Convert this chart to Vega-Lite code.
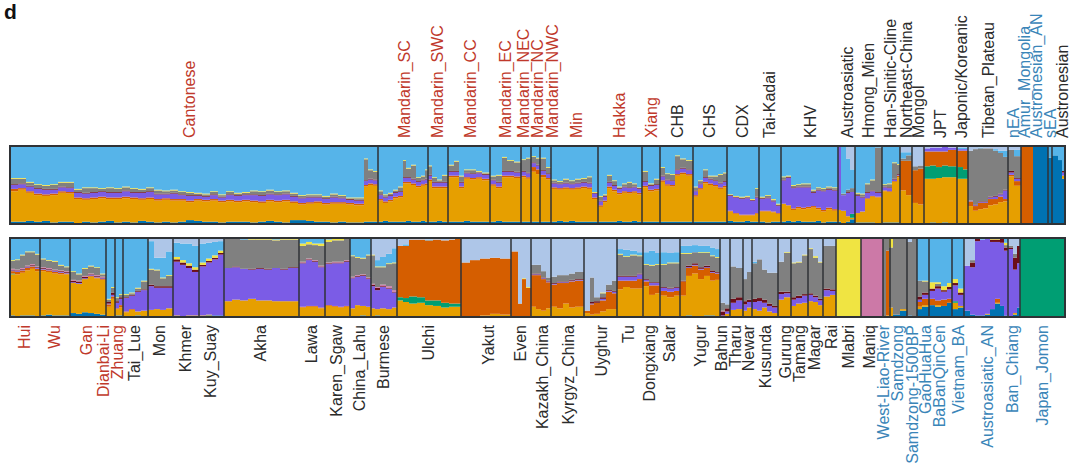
{"$schema":"https://vega.github.io/schema/vega-lite/v6.json","padding":{"left":4,"top":2,"right":0,"bottom":0},"background":"white","config":{"view":{"stroke":null}},"spacing":12,
"datasets":{
"top":[
{"x":10,"x2":18,"a":3,"b":39,"d":3,"e":5,"f":1,"h":7,"i":1,"j":41},{"x":18,"x2":26,"a":3,"b":41,"d":2,"e":5,"f":1,"h":6,"i":1,"j":41},{"x":26,"x2":34,"a":4,"b":36,"d":2,"e":6,"f":1,"h":4,"i":1,"j":46},{"x":34,"x2":42,"a":3,"b":34,"d":2,"e":6,"f":1,"h":4,"i":1,"j":49},{"x":42,"x2":50,"a":4,"b":32,"d":2,"e":6,"f":1,"h":4,"i":1,"j":50},{"x":50,"x2":58,"a":2,"b":35,"d":2,"e":5,"f":1,"h":5,"i":1,"j":49},{"x":58,"x2":66,"a":3,"b":37,"d":2,"e":5,"f":1,"h":5,"i":1,"j":46},{"x":66,"x2":74,"a":3,"b":36,"d":2,"e":5,"f":1,"h":6,"i":1,"j":46},
{"x":74,"x2":82,"a":1,"b":31,"d":2,"e":6,"f":1,"h":3,"i":1,"j":55},{"x":82,"x2":90,"a":3,"b":28,"d":2,"e":6,"f":1,"h":6,"i":1,"j":53},{"x":90,"x2":98,"a":2,"b":30,"d":2,"e":6,"f":1,"h":5,"i":1,"j":53},{"x":98,"x2":106,"a":3,"b":30,"d":2,"e":6,"f":1,"h":3,"i":1,"j":54},{"x":106,"x2":114,"a":4,"b":28,"d":2,"e":6,"f":1,"h":5,"i":1,"j":53},{"x":114,"x2":122,"a":2,"b":30,"d":2,"e":6,"f":1,"h":4,"i":1,"j":54},{"x":122,"x2":130,"a":3,"b":30,"d":2,"e":7,"f":1,"h":4,"i":1,"j":52},{"x":130,"x2":138,"a":2,"b":30,"d":2,"e":6,"f":1,"h":4,"i":1,"j":54},{"x":138,"x2":146,"a":4,"b":27,"d":2,"e":7,"f":1,"h":3,"i":1,"j":55},{"x":146,"x2":154,"a":3,"b":29,"d":2,"e":7,"f":1,"h":4,"i":1,"j":53},{"x":154,"x2":162,"a":2,"b":28,"d":2,"e":6,"f":1,"h":4,"i":1,"j":56},{"x":162,"x2":170,"a":3,"b":28,"d":2,"e":5,"f":1,"h":3,"i":1,"j":57},{"x":170,"x2":178,"a":2,"b":28,"d":2,"e":7,"f":1,"h":3,"i":1,"j":56},{"x":178,"x2":186,"a":3,"b":27,"d":2,"e":5,"f":1,"h":3,"i":1,"j":58},{"x":186,"x2":194,"a":5,"b":23,"d":2,"e":6,"f":1,"h":3,"i":1,"j":59},{"x":194,"x2":202,"a":4,"b":26,"d":2,"e":4,"f":1,"h":2,"i":1,"j":60},{"x":202,"x2":210,"a":3,"b":26,"d":2,"e":4,"f":1,"h":2,"i":1,"j":61},{"x":210,"x2":218,"a":3,"b":27,"d":2,"e":5,"f":1,"h":3,"i":1,"j":58},{"x":218,"x2":226,"a":2,"b":26,"d":2,"e":4,"f":1,"h":2,"i":1,"j":62},{"x":226,"x2":234,"a":3,"b":26,"d":2,"e":6,"f":1,"h":3,"i":1,"j":58},{"x":234,"x2":242,"a":3,"b":25,"d":2,"e":6,"f":1,"h":2,"i":1,"j":60},{"x":242,"x2":250,"a":3,"b":26,"d":2,"e":6,"f":1,"h":2,"i":1,"j":59},{"x":250,"x2":258,"a":2,"b":26,"d":2,"e":7,"f":1,"h":4,"i":1,"j":57},{"x":258,"x2":266,"a":3,"b":24,"d":2,"e":7,"f":1,"h":4,"i":1,"j":58},{"x":266,"x2":274,"a":4,"b":25,"d":2,"e":7,"f":1,"h":4,"i":1,"j":56},{"x":274,"x2":282,"a":3,"b":25,"d":2,"e":7,"f":1,"h":3,"i":1,"j":58},{"x":282,"x2":290,"a":2,"b":27,"d":2,"e":7,"f":1,"h":3,"i":1,"j":57},{"x":290,"x2":298,"a":5,"b":22,"d":2,"e":6,"f":1,"h":3,"i":1,"j":60},{"x":298,"x2":306,"a":5,"b":20,"d":2,"e":6,"f":1,"h":2,"i":1,"j":63},{"x":306,"x2":314,"a":4,"b":22,"d":2,"e":6,"f":1,"h":2,"i":1,"j":62},{"x":314,"x2":322,"a":3,"b":24,"d":2,"e":5,"f":1,"h":2,"i":1,"j":62},{"x":322,"x2":330,"a":3,"b":22,"d":2,"e":5,"f":1,"h":2,"i":1,"j":64},{"x":330,"x2":338,"a":2,"b":24,"d":2,"e":6,"f":1,"h":3,"i":1,"j":61},{"x":338,"x2":346,"a":3,"b":23,"d":2,"e":5,"f":1,"h":2,"i":1,"j":63},{"x":346,"x2":354,"a":2,"b":23,"d":2,"e":4,"f":1,"h":1,"i":1,"j":66},{"x":354,"x2":364,"a":2,"b":22,"d":2,"e":4,"f":1,"h":2,"i":1,"j":66},
{"x":364,"x2":368,"a":3,"b":45,"d":2,"e":5,"f":1,"h":27,"i":1,"j":16},{"x":368,"x2":373,"a":3,"b":47,"d":2,"e":5,"f":1,"h":11,"i":1,"j":30},{"x":373,"x2":378,"a":3,"b":46,"d":2,"e":5,"f":1,"h":10,"i":1,"j":32},{"x":378,"x2":383,"a":3,"b":27,"d":2,"e":5,"f":1,"h":4,"i":1,"j":57},{"x":383,"x2":388,"a":4,"b":23,"d":2,"e":5,"f":1,"h":2,"i":1,"j":62},{"x":388,"x2":393,"a":3,"b":26,"d":2,"e":5,"f":1,"h":2,"i":1,"j":60},{"x":393,"x2":398,"a":3,"b":30,"d":2,"e":5,"f":1,"h":2,"i":1,"j":56},{"x":398,"x2":403,"a":3,"b":31,"d":2,"e":5,"f":1,"h":5,"i":1,"j":52},{"x":403,"x2":406,"a":3,"b":49,"d":2,"e":5,"f":1,"h":21,"i":1,"j":18},{"x":406,"x2":411,"a":4,"b":48,"d":2,"e":5,"f":1,"h":11,"i":1,"j":28},{"x":411,"x2":416,"a":3,"b":47,"d":2,"e":5,"f":1,"h":17,"i":1,"j":24},{"x":416,"x2":421,"a":3,"b":44,"d":2,"e":5,"f":1,"h":4,"i":1,"j":40},{"x":421,"x2":425,"a":4,"b":45,"d":2,"e":5,"f":1,"h":4,"i":1,"j":38},{"x":425,"x2":428,"a":3,"b":47,"d":2,"e":5,"f":1,"h":11,"i":1,"j":30},
{"x":428,"x2":432,"a":3,"b":52,"d":2,"e":5,"f":1,"h":11,"i":1,"j":25},{"x":432,"x2":437,"a":3,"b":43,"d":2,"e":5,"f":1,"h":5,"i":1,"j":40},{"x":437,"x2":442,"a":4,"b":42,"d":2,"e":5,"f":1,"h":2,"i":1,"j":43},{"x":442,"x2":448,"a":3,"b":43,"d":2,"e":5,"f":1,"h":8,"i":1,"j":37},{"x":448,"x2":454,"a":3,"b":57,"d":2,"e":5,"f":1,"h":7,"i":1,"j":24},{"x":454,"x2":459,"a":3,"b":57,"d":2,"e":5,"f":1,"h":12,"i":1,"j":19},{"x":459,"x2":464,"a":3,"b":43,"d":2,"e":5,"f":1,"h":7,"i":1,"j":38},{"x":464,"x2":470,"a":4,"b":54,"d":2,"e":5,"f":1,"h":3,"i":1,"j":30},{"x":470,"x2":476,"a":3,"b":54,"d":2,"e":5,"f":1,"h":4,"i":1,"j":30},{"x":476,"x2":482,"a":3,"b":55,"d":2,"e":5,"f":1,"h":1,"i":1,"j":32},{"x":482,"x2":490,"a":3,"b":53,"d":2,"e":5,"f":1,"h":1,"i":1,"j":34},{"x":490,"x2":496,"a":3,"b":46,"d":2,"e":5,"f":1,"h":4,"i":1,"j":38},{"x":496,"x2":502,"a":4,"b":42,"d":2,"e":5,"f":1,"h":8,"i":1,"j":37},{"x":502,"x2":507,"a":3,"b":57,"d":2,"e":5,"f":1,"h":17,"i":1,"j":14},{"x":507,"x2":514,"a":3,"b":57,"d":2,"e":5,"f":1,"h":13,"i":1,"j":18},{"x":514,"x2":521,"a":3,"b":56,"d":2,"e":5,"f":1,"h":12,"i":1,"j":20},{"x":521,"x2":526,"a":3,"b":57,"d":2,"e":5,"f":1,"h":14,"i":1,"j":17},{"x":526,"x2":531,"a":3,"b":55,"d":2,"e":5,"f":1,"h":18,"i":1,"j":15},{"x":531,"x2":536,"a":3,"b":64,"d":6,"e":5,"f":1,"h":7,"i":1,"j":13},{"x":536,"x2":540,"a":3,"b":61,"d":6,"e":5,"f":1,"h":8,"i":1,"j":15},{"x":540,"x2":546,"a":3,"b":57,"d":3,"e":5,"f":1,"h":15,"i":1,"j":15},{"x":546,"x2":551,"a":3,"b":54,"d":2,"e":5,"f":1,"h":7,"i":1,"j":27},
{"x":551,"x2":557,"a":3,"b":42,"d":2,"e":5,"f":1,"h":3,"i":1,"j":43},{"x":557,"x2":563,"a":4,"b":40,"d":2,"e":5,"f":1,"h":2,"i":1,"j":45},{"x":563,"x2":569,"a":3,"b":42,"d":2,"e":5,"f":1,"h":4,"i":1,"j":42},{"x":569,"x2":575,"a":4,"b":40,"d":2,"e":5,"f":1,"h":3,"i":1,"j":44},{"x":575,"x2":581,"a":3,"b":42,"d":2,"e":5,"f":1,"h":4,"i":1,"j":42},{"x":581,"x2":587,"a":3,"b":43,"d":2,"e":5,"f":1,"h":4,"i":1,"j":41},{"x":587,"x2":592,"a":3,"b":42,"d":2,"e":5,"f":1,"h":7,"i":1,"j":39},{"x":592,"x2":598,"a":3,"b":29,"d":2,"e":5,"f":1,"i":1,"j":59},{"x":598,"x2":603,"a":3,"b":19,"d":2,"e":5,"f":1,"h":5,"i":1,"j":64},{"x":603,"x2":607,"a":3,"b":25,"d":2,"e":5,"f":1,"h":1,"i":1,"j":62},{"x":607,"x2":612,"a":3,"b":43,"d":2,"e":5,"f":1,"h":8,"i":1,"j":37},{"x":612,"x2":617,"a":3,"b":39,"d":2,"e":5,"f":1,"h":5,"i":1,"j":44},{"x":617,"x2":622,"a":4,"b":34,"d":2,"e":5,"f":1,"h":1,"i":1,"j":52},{"x":622,"x2":627,"a":3,"b":37,"d":2,"e":5,"f":1,"h":3,"i":1,"j":48},{"x":627,"x2":632,"a":3,"b":36,"d":2,"e":5,"f":1,"h":6,"i":1,"j":46},{"x":632,"x2":637,"a":4,"b":36,"d":2,"e":5,"f":1,"h":3,"i":1,"j":48},{"x":637,"x2":642,"a":3,"b":35,"d":2,"e":5,"f":1,"i":1,"j":53},{"x":642,"x2":648,"a":3,"b":44,"d":2,"e":5,"f":1,"h":12,"i":1,"j":32},{"x":648,"x2":654,"a":3,"b":39,"d":2,"e":5,"f":1,"h":1,"i":1,"j":48},{"x":654,"x2":660,"a":3,"b":40,"d":2,"e":5,"f":1,"h":6,"i":1,"j":42},{"x":660,"x2":665,"a":3,"b":51,"d":2,"e":5,"f":1,"h":10,"i":1,"j":27},{"x":665,"x2":670,"a":3,"b":46,"d":2,"e":5,"f":1,"h":7,"i":1,"j":35},{"x":670,"x2":675,"a":3,"b":45,"d":2,"e":5,"f":1,"h":7,"i":1,"j":36},{"x":675,"x2":680,"a":3,"b":59,"d":2,"e":5,"f":1,"h":17,"i":1,"j":12},{"x":680,"x2":686,"a":3,"b":61,"d":2,"e":5,"f":1,"h":11,"i":1,"j":16},{"x":686,"x2":693,"a":3,"b":59,"d":2,"e":5,"f":1,"h":11,"i":1,"j":18},{"x":693,"x2":698,"a":3,"b":32,"d":2,"e":5,"f":1,"h":4,"i":1,"j":52},{"x":698,"x2":703,"a":3,"b":41,"d":2,"e":5,"f":1,"h":3,"i":1,"j":44},{"x":703,"x2":708,"a":3,"b":49,"d":2,"e":5,"f":1,"h":9,"i":1,"j":30},{"x":708,"x2":713,"a":3,"b":47,"d":2,"e":5,"f":1,"h":3,"i":1,"j":38},{"x":713,"x2":718,"a":3,"b":45,"d":2,"e":5,"f":1,"h":5,"i":1,"j":38},{"x":718,"x2":723,"a":3,"b":42,"d":2,"e":5,"f":1,"h":10,"i":1,"j":36},{"x":723,"x2":727,"a":3,"b":44,"d":2,"e":5,"f":1,"h":10,"i":1,"j":34},
{"x":727,"x2":733,"a":4,"b":12,"d":1,"e":19,"f":1,"i":1,"j":62},{"x":733,"x2":739,"a":3,"b":10,"d":1,"e":20,"f":1,"i":1,"j":64},{"x":739,"x2":745,"a":3,"b":8,"d":1,"e":20,"f":1,"h":1,"i":1,"j":65},{"x":745,"x2":750,"a":4,"b":7,"d":1,"e":21,"f":1,"h":1,"i":1,"j":64},{"x":750,"x2":755,"a":3,"b":8,"d":1,"e":18,"f":1,"i":1,"j":68},{"x":755,"x2":759,"a":3,"b":10,"d":1,"e":20,"f":1,"h":10,"i":1,"j":54},{"x":759,"x2":765,"a":3,"b":13,"d":1,"e":15,"f":1,"h":1,"i":1,"j":65},{"x":765,"x2":771,"a":2,"b":14,"d":1,"e":16,"f":1,"h":2,"i":1,"j":63},{"x":771,"x2":776,"a":3,"b":12,"d":1,"e":13,"f":1,"h":1,"i":1,"j":68},{"x":776,"x2":781,"a":3,"b":10,"d":1,"e":9,"f":1,"h":1,"i":1,"j":74},{"x":781,"x2":786,"a":3,"b":23,"e":30,"f":1,"h":3,"i":1,"j":39},{"x":786,"x2":791,"a":4,"b":20,"e":35,"f":1,"h":1,"i":1,"j":38},{"x":791,"x2":796,"a":3,"b":15,"d":2,"e":26,"f":1,"h":2,"i":1,"j":50},{"x":796,"x2":801,"a":4,"b":16,"d":2,"e":25,"f":1,"h":2,"i":1,"j":49},{"x":801,"x2":806,"a":3,"b":16,"d":2,"e":26,"f":1,"h":3,"i":1,"j":48},{"x":806,"x2":811,"a":3,"b":17,"d":2,"e":25,"f":1,"h":3,"i":1,"j":48},{"x":811,"x2":816,"a":3,"b":18,"d":2,"e":17,"f":1,"h":2,"i":1,"j":56},{"x":816,"x2":821,"a":4,"b":15,"d":2,"e":22,"f":1,"h":2,"i":1,"j":53},{"x":821,"x2":826,"a":2,"b":14,"d":2,"e":24,"f":1,"h":2,"i":1,"j":54},{"x":826,"x2":832,"a":3,"b":16,"d":2,"e":23,"f":1,"h":2,"i":1,"j":52},{"x":832,"x2":838,"a":3,"b":14,"d":2,"e":24,"f":1,"h":2,"i":1,"j":53},
{"x":838,"x2":841,"a":3,"b":15,"e":82},{"x":841,"x2":846,"b":17,"e":20,"h":2,"j":61},{"x":846,"x2":850,"a":3,"b":7,"e":30,"f":1,"h":3,"j":40,"k":16},{"x":850,"x2":855,"a":6,"b":2,"c":5,"e":28,"h":5,"j":24,"k":30},{"x":855,"x2":860,"a":2,"b":12,"e":22,"f":1,"h":2,"i":1,"j":60},{"x":860,"x2":865,"a":2,"b":14,"e":18,"f":1,"h":3,"i":1,"j":61},{"x":865,"x2":870,"a":2,"b":30,"d":1,"e":7,"f":1,"h":10,"i":1,"j":48},{"x":870,"x2":875,"a":2,"b":33,"d":1,"e":6,"f":1,"h":13,"i":1,"j":43},{"x":875,"x2":882,"a":1,"b":33,"d":1,"e":5,"f":1,"h":57,"j":2},{"x":882,"x2":887,"a":2,"b":40,"d":1,"e":4,"f":1,"h":2,"i":1,"j":49},{"x":887,"x2":892,"a":2,"b":39,"d":1,"e":4,"f":1,"h":4,"i":1,"j":48},{"x":892,"x2":897,"a":2,"b":52,"d":1,"e":2,"f":1,"h":20,"i":1,"j":21},{"x":897,"x2":900,"a":2,"b":58,"d":2,"e":1,"f":1,"h":12,"i":1,"j":23},{"x":900,"x2":906,"a":1,"b":42,"d":38,"h":3,"j":8,"k":8},{"x":906,"x2":912,"a":1,"b":36,"d":44,"h":7,"j":4,"k":8},{"x":912,"x2":918,"b":27,"d":42,"h":5,"k":26},{"x":918,"x2":924,"b":25,"d":46,"h":4,"k":25},{"x":924,"x2":930,"a":1,"b":57,"c":16,"d":19,"e":4,"k":3},{"x":930,"x2":936,"a":2,"b":56,"c":17,"d":18,"e":5,"k":2},{"x":936,"x2":942,"a":1,"b":58,"c":14,"d":20,"e":5,"k":2},{"x":942,"x2":948,"a":2,"b":58,"c":15,"d":18,"e":6,"k":1},{"x":948,"x2":957,"a":1,"b":59,"c":14,"d":21,"e":3,"k":2},{"x":957,"x2":963,"a":1,"b":57,"c":15,"d":21,"e":2,"j":2,"k":2},{"x":963,"x2":968,"a":1,"b":57,"c":12,"d":24,"e":2,"j":2,"k":2},{"x":968,"x2":973,"a":1,"b":22,"d":6,"e":1,"h":64,"k":6},{"x":973,"x2":978,"a":1,"b":16,"d":6,"e":1,"f":1,"h":71,"k":4},{"x":978,"x2":983,"a":1,"b":18,"d":8,"e":1,"f":1,"h":68,"j":1,"k":2},{"x":983,"x2":988,"a":1,"b":19,"d":7,"e":1,"f":1,"h":68,"k":3},{"x":988,"x2":993,"a":1,"b":23,"d":8,"e":2,"f":1,"h":62,"k":3},{"x":993,"x2":998,"a":1,"b":24,"d":7,"e":3,"f":1,"h":58,"j":2,"k":4},{"x":998,"x2":1003,"a":1,"b":27,"d":7,"e":3,"f":1,"h":52,"j":3,"k":6},{"x":1003,"x2":1008,"a":1,"b":28,"d":3,"e":11,"f":1,"h":42,"j":8,"k":6},{"x":1008,"x2":1014,"a":1,"b":60,"d":2,"e":3,"f":2,"h":27,"k":5},{"x":1014,"x2":1021,"a":1,"b":48,"d":6,"e":3,"f":1,"h":28,"j":8,"k":5},{"x":1021,"x2":1033,"b":1,"d":99},{"x":1033,"x2":1048,"a":99,"j":1},{"x":1048,"x2":1052,"a":85,"j":15},{"x":1052,"x2":1058,"a":88,"j":12},{"x":1058,"x2":1062,"a":82,"j":18},{"x":1062,"x2":1065,"a":58,"b":4,"e":4,"f":2,"j":32}
],
"bottom":[
{"x":10,"x2":15,"a":2,"b":52,"c":1,"d":3,"e":1,"f":1,"g":1,"h":10,"i":1,"j":28},{"x":15,"x2":20,"a":1,"b":53,"d":3,"e":1,"f":1,"g":1,"h":12,"i":1,"j":27},{"x":20,"x2":25,"a":2,"b":54,"d":3,"e":1,"f":1,"g":1,"h":16,"i":1,"j":21},{"x":25,"x2":30,"a":2,"b":57,"d":3,"e":1,"f":1,"g":1,"h":17,"i":1,"j":17},{"x":30,"x2":35,"a":2,"b":59,"d":3,"e":1,"f":1,"g":1,"h":15,"i":1,"j":17},{"x":35,"x2":40,"a":1,"b":57,"d":3,"e":1,"f":1,"g":1,"h":15,"i":1,"j":20},
{"x":40,"x2":46,"a":2,"b":56,"d":2,"e":1,"f":1,"g":1,"h":10,"i":1,"j":26},{"x":46,"x2":52,"a":3,"b":54,"d":2,"e":1,"f":1,"g":1,"h":9,"i":1,"j":28},{"x":52,"x2":58,"a":2,"b":53,"d":2,"e":1,"f":1,"g":1,"h":10,"i":1,"j":29},{"x":58,"x2":64,"a":2,"b":52,"d":2,"e":1,"f":1,"g":1,"h":6,"i":1,"j":34},{"x":64,"x2":70,"a":2,"b":52,"d":1,"e":1,"f":1,"g":1,"h":5,"i":1,"j":36},
{"x":70,"x2":76,"a":5,"b":38,"e":1,"f":2,"g":1,"h":10,"i":1,"j":42},{"x":76,"x2":82,"a":4,"b":38,"e":1,"f":2,"g":1,"h":8,"i":1,"j":45},{"x":82,"x2":88,"a":6,"b":42,"e":1,"f":2,"g":1,"h":9,"i":1,"j":38},{"x":88,"x2":94,"a":5,"b":46,"d":1,"e":1,"f":1,"g":1,"h":9,"i":1,"j":35},{"x":94,"x2":100,"a":4,"b":45,"d":1,"e":1,"f":1,"g":1,"h":9,"i":1,"j":37},{"x":100,"x2":106,"a":3,"b":44,"d":1,"e":1,"f":1,"g":1,"h":3,"i":1,"j":45},
{"x":106,"x2":111,"a":1,"b":12,"d":3,"e":1,"f":2,"h":3,"i":1,"j":77},{"x":111,"x2":115,"a":1,"b":22,"d":3,"e":2,"f":3,"h":6,"i":1,"j":62},{"x":115,"x2":119,"a":2,"b":8,"d":1,"e":7,"f":2,"h":4,"i":1,"j":75},{"x":119,"x2":123,"a":2,"b":10,"d":3,"e":8,"f":2,"h":3,"i":1,"j":71},
{"x":123,"x2":129,"a":1,"b":5,"d":1,"e":17,"f":1,"h":3,"i":1,"j":71},{"x":129,"x2":135,"a":1,"b":8,"d":1,"e":17,"f":1,"h":2,"i":1,"j":69},{"x":135,"x2":141,"a":2,"b":5,"e":25,"f":1,"h":3,"i":1,"j":63},{"x":141,"x2":148,"a":1,"b":7,"e":26,"f":1,"h":10,"i":1,"j":54},
{"x":148,"x2":154,"a":1,"b":8,"e":30,"f":2,"h":19,"i":1,"j":35,"k":4},{"x":154,"x2":160,"a":1,"b":9,"e":27,"f":2,"h":20,"i":1,"j":15,"k":25},{"x":160,"x2":166,"a":1,"b":8,"e":28,"f":2,"h":10,"i":1,"j":25,"k":25},{"x":166,"x2":173,"a":1,"b":10,"e":26,"f":2,"h":13,"i":1,"j":30,"k":17},
{"x":173,"x2":180,"b":2,"e":68,"f":3,"i":3,"j":18,"k":6},{"x":180,"x2":186,"b":1,"e":65,"f":3,"i":3,"j":21,"k":7},{"x":186,"x2":192,"a":1,"b":1,"e":60,"f":3,"i":3,"j":25,"k":7},{"x":192,"x2":199,"a":1,"b":1,"e":55,"f":3,"i":3,"j":27,"k":10},{"x":199,"x2":206,"a":1,"b":1,"e":62,"f":2,"i":3,"j":24,"k":7},{"x":206,"x2":212,"a":2,"b":1,"e":66,"f":2,"i":3,"j":20,"k":6},{"x":212,"x2":218,"a":2,"e":71,"f":2,"i":3,"j":17,"k":5},{"x":218,"x2":224,"a":2,"e":77,"f":2,"i":3,"j":12,"k":4},
{"x":224,"x2":232,"a":1,"b":19,"e":42,"h":38},{"x":232,"x2":240,"b":22,"e":41,"f":1,"h":36},{"x":240,"x2":248,"a":1,"b":20,"e":40,"h":37,"j":2},{"x":248,"x2":256,"b":23,"e":37,"f":1,"h":37,"i":1,"j":1},{"x":256,"x2":264,"b":21,"e":40,"f":1,"h":36,"i":1,"j":1},{"x":264,"x2":272,"a":1,"b":20,"e":39,"f":1,"h":37,"i":1,"j":1},{"x":272,"x2":280,"a":1,"b":19,"e":42,"h":35,"i":1,"j":2},{"x":280,"x2":288,"b":20,"e":40,"f":1,"h":37,"i":1,"j":1},{"x":288,"x2":299,"b":20,"e":42,"f":1,"h":35,"i":1,"j":1},
{"x":299,"x2":306,"a":1,"b":11,"d":1,"e":55,"f":1,"g":1,"h":20,"i":3,"j":7},{"x":306,"x2":312,"a":1,"b":12,"d":1,"e":58,"f":1,"g":1,"h":18,"i":3,"j":5},{"x":312,"x2":318,"b":13,"d":1,"e":56,"f":1,"g":1,"h":19,"i":2,"j":7},{"x":318,"x2":325,"b":11,"d":1,"e":51,"f":1,"g":1,"h":25,"i":3,"j":7},{"x":325,"x2":332,"b":14,"d":1,"e":52,"f":1,"g":1,"h":26,"i":3,"j":2},{"x":332,"x2":338,"b":13,"d":1,"e":54,"f":1,"g":1,"h":27,"i":2,"j":1},{"x":338,"x2":344,"b":12,"d":1,"e":55,"f":1,"g":1,"h":27,"i":2,"j":1},{"x":344,"x2":350,"b":13,"d":1,"e":56,"f":1,"g":1,"h":27,"i":1},
{"x":350,"x2":355,"a":1,"b":10,"e":38,"f":1,"g":1,"h":26,"i":1,"j":22},{"x":355,"x2":360,"a":1,"b":14,"e":36,"f":1,"g":1,"h":22,"i":1,"j":24},{"x":360,"x2":366,"a":2,"b":12,"e":38,"f":1,"g":1,"h":20,"i":1,"j":25},{"x":366,"x2":371,"a":1,"b":12,"e":35,"f":1,"g":1,"h":28,"i":1,"j":21},
{"x":371,"x2":375,"a":1,"b":10,"e":28,"f":2,"g":1,"h":36,"i":1,"k":21},{"x":375,"x2":380,"a":2,"b":8,"e":24,"f":3,"g":1,"h":25,"i":1,"j":8,"k":28},{"x":380,"x2":386,"a":1,"b":10,"e":27,"f":1,"g":2,"h":22,"i":1,"j":12,"k":24},{"x":386,"x2":392,"a":1,"b":9,"e":26,"f":1,"g":2,"h":28,"i":1,"j":12,"k":20},{"x":392,"x2":397,"a":1,"b":11,"e":19,"f":1,"g":2,"h":34,"i":1,"j":18,"k":13},
{"x":397,"x2":403,"b":21,"c":4,"d":65,"k":10},{"x":403,"x2":409,"b":19,"c":5,"d":66,"j":2,"k":8},{"x":409,"x2":417,"b":17,"c":9,"d":72,"k":2},{"x":417,"x2":425,"b":18,"c":7,"d":73,"k":2},{"x":425,"x2":433,"b":15,"c":6,"d":76,"j":1,"k":2},{"x":433,"x2":441,"b":14,"c":7,"d":77,"k":2},{"x":441,"x2":449,"b":12,"c":6,"d":79,"k":3},{"x":449,"x2":455,"b":13,"c":4,"d":81,"k":2},{"x":455,"x2":461,"b":13,"c":4,"d":82,"k":1},
{"x":461,"x2":470,"b":1,"d":68,"k":31},{"x":470,"x2":480,"b":1,"d":71,"k":28},{"x":480,"x2":490,"b":2,"d":72,"k":26},{"x":490,"x2":500,"b":4,"d":71,"k":25},{"x":500,"x2":511,"b":3,"d":71,"k":26},{"x":511,"x2":518,"d":83,"k":17},{"x":518,"x2":522,"d":17,"k":83},{"x":522,"x2":526,"d":48,"i":1,"k":51},{"x":526,"x2":531,"d":37,"i":1,"k":62},
{"x":531,"x2":536,"b":13,"d":40,"e":1,"f":1,"h":11,"k":34},{"x":536,"x2":541,"b":10,"d":43,"e":1,"f":1,"h":11,"k":34},{"x":541,"x2":546,"b":8,"d":40,"e":1,"f":1,"h":8,"k":42},{"x":546,"x2":551,"b":11,"d":33,"e":1,"f":1,"h":4,"k":50},{"x":551,"x2":557,"b":13,"d":28,"e":1,"f":1,"h":8,"k":49},{"x":557,"x2":563,"b":11,"d":32,"e":1,"f":1,"h":8,"k":47},{"x":563,"x2":569,"b":17,"d":26,"e":1,"f":1,"h":8,"k":47},{"x":569,"x2":575,"b":12,"d":33,"e":1,"f":1,"h":8,"k":45},{"x":575,"x2":584,"b":13,"d":33,"e":1,"f":1,"h":9,"k":43},
{"x":584,"x2":590,"b":5,"d":3,"k":92},{"x":590,"x2":594,"b":3,"d":13,"e":1,"f":2,"h":31,"k":50},{"x":594,"x2":600,"b":4,"d":14,"f":2,"h":5,"k":75},{"x":600,"x2":606,"b":7,"d":14,"e":2,"f":2,"h":5,"i":1,"k":69},{"x":606,"x2":612,"b":10,"d":22,"e":1,"f":1,"h":7,"k":59},{"x":612,"x2":617,"b":10,"d":20,"e":2,"f":1,"h":13,"k":54},
{"x":617,"x2":623,"a":1,"b":34,"d":11,"e":5,"f":1,"h":27,"i":1,"j":6,"k":14},{"x":623,"x2":630,"a":1,"b":37,"d":8,"e":5,"f":1,"h":24,"i":1,"j":8,"k":15},{"x":630,"x2":637,"a":1,"b":35,"d":10,"e":5,"f":1,"h":26,"i":1,"j":5,"k":16},{"x":637,"x2":643,"a":1,"b":35,"d":12,"e":6,"f":1,"h":22,"i":1,"j":4,"k":18},{"x":643,"x2":649,"a":1,"b":38,"d":6,"e":2,"f":1,"h":18,"i":1,"j":15,"k":18},{"x":649,"x2":655,"a":1,"b":27,"d":12,"e":3,"f":1,"h":21,"i":1,"j":18,"k":16},{"x":655,"x2":660,"a":1,"b":29,"d":10,"e":3,"f":1,"h":22,"i":1,"j":14,"k":19},{"x":660,"x2":667,"b":27,"d":6,"e":4,"f":1,"h":28,"i":1,"j":15,"k":18},{"x":667,"x2":674,"a":1,"b":24,"d":7,"e":4,"f":1,"h":31,"i":1,"j":12,"k":19},{"x":674,"x2":680,"a":1,"b":26,"d":6,"e":4,"f":1,"h":30,"i":1,"j":13,"k":18},
{"x":680,"x2":686,"a":1,"b":26,"d":18,"f":1,"h":34,"i":1,"j":9,"k":10},{"x":686,"x2":692,"a":2,"b":50,"d":10,"e":1,"f":2,"h":15,"i":1,"j":9,"k":10},{"x":692,"x2":698,"a":1,"b":54,"d":10,"e":1,"f":2,"h":14,"j":9,"k":9},{"x":698,"x2":704,"a":1,"b":47,"d":12,"e":1,"f":2,"h":18,"i":1,"j":8,"k":10},{"x":704,"x2":710,"a":2,"b":50,"d":10,"e":1,"f":2,"h":16,"i":1,"j":8,"k":10},{"x":710,"x2":715,"a":2,"b":44,"d":10,"e":1,"f":2,"h":18,"i":1,"j":10,"k":12},{"x":715,"x2":720,"a":1,"b":46,"d":8,"e":1,"f":1,"h":18,"i":1,"j":10,"k":14},
{"x":720,"x2":725,"e":2,"f":5,"g":1,"h":10,"k":82},{"x":725,"x2":730,"a":1,"b":3,"e":3,"f":4,"h":5,"k":84},{"x":730,"x2":736,"a":1,"b":8,"e":9,"f":5,"h":41,"k":36},{"x":736,"x2":743,"a":1,"b":9,"e":11,"f":4,"h":37,"k":38},{"x":743,"x2":747,"b":8,"e":8,"f":4,"h":28,"k":52},{"x":747,"x2":752,"b":12,"e":7,"f":3,"h":35,"k":43},{"x":752,"x2":757,"b":10,"e":9,"f":4,"h":45,"j":2,"k":30},{"x":757,"x2":762,"b":8,"e":12,"f":4,"h":49,"k":27},{"x":762,"x2":767,"b":12,"e":6,"f":4,"h":38,"k":40},{"x":767,"x2":772,"b":7,"e":7,"f":3,"h":39,"k":44},{"x":772,"x2":778,"b":5,"e":7,"f":2,"h":42,"k":44},
{"x":778,"x2":784,"b":22,"e":7,"f":3,"h":38,"k":30},{"x":784,"x2":791,"b":25,"e":5,"f":2,"h":49,"i":1,"k":18},{"x":791,"x2":796,"b":14,"e":8,"f":3,"h":43,"i":1,"k":31},{"x":796,"x2":802,"b":17,"e":7,"f":3,"h":42,"i":1,"k":30},{"x":802,"x2":808,"b":18,"e":9,"f":2,"h":49,"i":1,"k":21},{"x":808,"x2":813,"b":20,"e":8,"f":2,"h":56,"i":1,"k":13},{"x":813,"x2":818,"b":19,"e":6,"f":2,"h":48,"i":2,"k":23},{"x":818,"x2":823,"b":15,"e":6,"f":2,"h":46,"i":1,"k":30},{"x":823,"x2":830,"b":26,"e":8,"f":2,"h":54,"k":10},{"x":830,"x2":836,"b":28,"e":5,"f":2,"h":55,"k":10},
{"x":836,"x2":861,"i":100},{"x":861,"x2":883,"g":100},{"x":883,"x2":886,"h":100},{"x":886,"x2":889,"b":2,"d":82,"h":16},{"x":889,"x2":893,"b":12,"h":76,"i":12},{"x":893,"x2":900,"a":3,"h":97},{"x":900,"x2":907,"a":8,"b":2,"h":90},{"x":907,"x2":912,"a":2,"h":93,"k":5},{"x":912,"x2":917,"h":100},
{"x":917,"x2":922,"a":10,"b":3,"d":6,"e":3,"f":4,"h":20,"j":54},{"x":922,"x2":929,"a":13,"b":2,"d":8,"e":5,"f":3,"h":14,"i":1,"j":54},{"x":929,"x2":935,"a":15,"d":8,"e":10,"f":3,"i":8,"j":56},{"x":935,"x2":941,"a":13,"b":2,"d":6,"e":15,"f":3,"h":3,"i":2,"j":56},{"x":941,"x2":947,"a":14,"d":8,"e":10,"f":2,"i":5,"j":61},{"x":947,"x2":952,"a":18,"d":5,"e":12,"f":3,"i":5,"j":57},{"x":952,"x2":958,"a":10,"b":8,"c":2,"e":20,"f":3,"i":5,"j":52},{"x":958,"x2":964,"a":12,"b":2,"e":14,"f":3,"i":5,"j":64},
{"x":964,"x2":970,"a":8,"e":57,"k":35},{"x":970,"x2":975,"a":3,"e":60,"f":6,"h":3,"k":28},{"x":975,"x2":980,"a":2,"e":94,"f":4},{"x":980,"x2":985,"a":2,"e":96,"j":2},{"x":985,"x2":990,"a":3,"b":1,"e":96},{"x":990,"x2":995,"a":10,"e":85,"f":3,"i":2},{"x":995,"x2":1000,"a":17,"b":1,"d":5,"e":72,"f":3,"i":2},{"x":1000,"x2":1004,"a":14,"e":80,"f":5,"i":1},{"x":1004,"x2":1008,"a":2,"e":82,"f":4,"h":3,"i":3,"j":6},{"x":1008,"x2":1013,"a":1,"e":85,"f":2,"h":2,"k":10},{"x":1013,"x2":1017,"a":3,"b":2,"e":55,"f":15,"h":5,"k":20},{"x":1017,"x2":1020,"a":12,"e":56,"f":22,"k":10},{"x":1020,"x2":1065,"c":100}
]},
"vconcat":[
{"width":1055,"height":78,"layer":[
{"data":{"name":"top"},"transform":[{"fold":["a","b","c","d","e","f","g","h","i","j","k"]},{"filter":"datum.value>0"},{"stack":"value","groupby":["x"],"sort":[{"field":"key","order":"ascending"}],"as":["y0","y1"]}],"mark":{"type":"bar"},"encoding":{"x":{"field":"x","type":"quantitative","scale":{"domain":[10,1065],"nice":false,"zero":false},"axis":null},"x2":{"field":"x2"},"y":{"field":"y0","type":"quantitative","scale":{"domain":[0,100],"nice":false},"axis":null},"y2":{"field":"y1"},"color":{"field":"key","type":"nominal","legend":null,"scale":{"domain":["a","b","c","d","e","f","g","h","i","j","k"],"range":["#0072B2","#E69F00","#009E73","#D55E00","#7B5CE6","#6B0F1A","#CC79A7","#808080","#F0E442","#56B4E9","#AEC6E8"]}}}},
{"data":{"values":[{"x":378},{"x":428},{"x":448},{"x":490},{"x":521},{"x":531},{"x":540},{"x":551},{"x":598},{"x":642},{"x":660},{"x":693},{"x":727},{"x":759},{"x":781},{"x":838},{"x":855},{"x":882},{"x":900},{"x":912},{"x":924},{"x":957},{"x":968},{"x":1008},{"x":1021},{"x":1048},{"x":1052}]},"mark":{"type":"rule","color":"#2f3236","strokeWidth":1.5},"encoding":{"x":{"field":"x","type":"quantitative"}}},
{"data":{"values":[{"x":10,"x2":1065,"y":0,"y2":100}]},"mark":{"type":"rect","fillOpacity":0,"stroke":"#2f3236","strokeWidth":2},"encoding":{"x":{"field":"x","type":"quantitative"},"x2":{"field":"x2"},"y":{"field":"y","type":"quantitative"},"y2":{"field":"y2"}}},
{"data":{"values":[{"x":190,"name":"Cantonese","kind":"han"},{"x":405,"name":"Mandarin_SC","kind":"han"},{"x":438,"name":"Mandarin_SWC","kind":"han"},{"x":471,"name":"Mandarin_CC","kind":"han"},{"x":506,"name":"Mandarin_EC","kind":"han"},{"x":524,"name":"Mandarin_NEC","kind":"han"},{"x":538,"name":"Mandarin_NC","kind":"han"},{"x":553,"name":"Mandarin_NWC","kind":"han"},{"x":577,"name":"Min","kind":"han"},{"x":620,"name":"Hakka","kind":"han"},{"x":652,"name":"Xiang","kind":"han"},{"x":678,"name":"CHB","kind":"other"},{"x":710,"name":"CHS","kind":"other"},{"x":743,"name":"CDX","kind":"other"},{"x":770,"name":"Tai-Kadai","kind":"other"},{"x":811,"name":"KHV","kind":"other"},{"x":848,"name":"Austroasiatic","kind":"other"},{"x":869,"name":"Hmong_Mien","kind":"other"},{"x":891,"name":"Han-Sinitic-Cline","kind":"other"},{"x":907,"name":"Northeast-China","kind":"other"},{"x":919,"name":"Mongol","kind":"other"},{"x":941,"name":"JPT","kind":"other"},{"x":962,"name":"Japonic/Koreanic","kind":"other"},{"x":989,"name":"Tibetan_Plateau","kind":"other"},{"x":1014,"name":"nEA","kind":"ancient"},{"x":1025,"name":"Amur_Mongolia","kind":"ancient"},{"x":1037,"name":"Austronesian_AN","kind":"ancient"},{"x":1051,"name":"sEA","kind":"ancient"},{"x":1063,"name":"Austronesian","kind":"other"}]},"mark":{"type":"text","angle":270,"align":"left","baseline":"middle","font":"Liberation Sans","fontSize":16,"dx":8},"encoding":{"x":{"field":"x","type":"quantitative"},"y":{"datum":100,"type":"quantitative"},"text":{"field":"name"},"color":{"field":"kind","type":"nominal","legend":null,"scale":{"domain":["han","other","ancient"],"range":["#C0392B","#2b2b2b","#3A85B8"]}}}},
{"data":{"values":[{"x":10,"name":"d"}]},"mark":{"type":"text","align":"left","baseline":"top","font":"Liberation Sans","fontWeight":"bold","fontSize":21,"color":"#111","dx":-6,"dy":-144},"encoding":{"x":{"field":"x","type":"quantitative"},"y":{"datum":100,"type":"quantitative"},"text":{"field":"name"}}}
],"resolve":{"scale":{"color":"independent"}}},
{"width":1055,"height":79,"layer":[
{"data":{"name":"bottom"},"transform":[{"fold":["a","b","c","d","e","f","g","h","i","j","k"]},{"filter":"datum.value>0"},{"stack":"value","groupby":["x"],"sort":[{"field":"key","order":"ascending"}],"as":["y0","y1"]}],"mark":{"type":"bar"},"encoding":{"x":{"field":"x","type":"quantitative","scale":{"domain":[10,1065],"nice":false,"zero":false},"axis":null},"x2":{"field":"x2"},"y":{"field":"y0","type":"quantitative","scale":{"domain":[0,100],"nice":false},"axis":null},"y2":{"field":"y1"},"color":{"field":"key","type":"nominal","legend":null,"scale":{"domain":["a","b","c","d","e","f","g","h","i","j","k"],"range":["#0072B2","#E69F00","#009E73","#D55E00","#7B5CE6","#6B0F1A","#CC79A7","#808080","#F0E442","#56B4E9","#AEC6E8"]}}}},
{"data":{"values":[{"x":40},{"x":70},{"x":106},{"x":115},{"x":123},{"x":148},{"x":173},{"x":199},{"x":224},{"x":299},{"x":325},{"x":350},{"x":371},{"x":397},{"x":461},{"x":511},{"x":531},{"x":551},{"x":584},{"x":617},{"x":643},{"x":660},{"x":680},{"x":720},{"x":730},{"x":743},{"x":752},{"x":778},{"x":791},{"x":808},{"x":823},{"x":836},{"x":861},{"x":883},{"x":890},{"x":907},{"x":917},{"x":929},{"x":952},{"x":964},{"x":1008},{"x":1020}]},"mark":{"type":"rule","color":"#2f3236","strokeWidth":1.5},"encoding":{"x":{"field":"x","type":"quantitative"}}},
{"data":{"values":[{"x":10,"x2":1065,"y":0,"y2":100}]},"mark":{"type":"rect","fillOpacity":0,"stroke":"#2f3236","strokeWidth":2},"encoding":{"x":{"field":"x","type":"quantitative"},"x2":{"field":"x2"},"y":{"field":"y","type":"quantitative"},"y2":{"field":"y2"}}},
{"data":{"values":[{"x":25,"name":"Hui","kind":"han"},{"x":55,"name":"Wu","kind":"han"},{"x":87,"name":"Gan","kind":"han"},{"x":104,"name":"Dianbai-Li","kind":"han"},{"x":118,"name":"Zhuang","kind":"han"},{"x":135,"name":"Tai_Lue","kind":"other"},{"x":160,"name":"Mon","kind":"other"},{"x":186,"name":"Khmer","kind":"other"},{"x":211,"name":"Kuy_Suay","kind":"other"},{"x":261,"name":"Akha","kind":"other"},{"x":312,"name":"Lawa","kind":"other"},{"x":337,"name":"Karen_Sgaw","kind":"other"},{"x":360,"name":"China_Lahu","kind":"other"},{"x":384,"name":"Burmese","kind":"other"},{"x":429,"name":"Ulchi","kind":"other"},{"x":489,"name":"Yakut","kind":"other"},{"x":521,"name":"Even","kind":"other"},{"x":543,"name":"Kazakh_China","kind":"other"},{"x":569,"name":"Kyrgyz_China","kind":"other"},{"x":602,"name":"Uyghur","kind":"other"},{"x":629,"name":"Tu","kind":"other"},{"x":650,"name":"Dongxiang","kind":"other"},{"x":670,"name":"Salar","kind":"other"},{"x":701,"name":"Yugur","kind":"other"},{"x":722,"name":"Bahun","kind":"other"},{"x":736,"name":"Tharu","kind":"other"},{"x":749,"name":"Newar","kind":"other"},{"x":766,"name":"Kusunda","kind":"other"},{"x":786,"name":"Gurung","kind":"other"},{"x":800,"name":"Tamang","kind":"other"},{"x":815,"name":"Magar","kind":"other"},{"x":832,"name":"Rai","kind":"other"},{"x":849,"name":"Mlabri","kind":"other"},{"x":870,"name":"Maniq","kind":"other"},{"x":884,"name":"West-Liao-River","kind":"ancient"},{"x":898,"name":"Samdzong","kind":"ancient"},{"x":913,"name":"Samdzong-1500BP","kind":"ancient"},{"x":926,"name":"GaoHuaHua","kind":"ancient"},{"x":940,"name":"BaBanQinCen","kind":"ancient"},{"x":959,"name":"Vietnam_BA","kind":"ancient"},{"x":988,"name":"Austroasiatic_AN","kind":"ancient"},{"x":1013,"name":"Ban_Chiang","kind":"ancient"},{"x":1043,"name":"Japan_Jomon","kind":"ancient"}]},"mark":{"type":"text","angle":270,"align":"right","baseline":"middle","font":"Liberation Sans","fontSize":16,"dx":-8},"encoding":{"x":{"field":"x","type":"quantitative"},"y":{"datum":0,"type":"quantitative"},"text":{"field":"name"},"color":{"field":"kind","type":"nominal","legend":null,"scale":{"domain":["han","other","ancient"],"range":["#C0392B","#2b2b2b","#3A85B8"]}}}}
],"resolve":{"scale":{"color":"independent"}}}
]}
